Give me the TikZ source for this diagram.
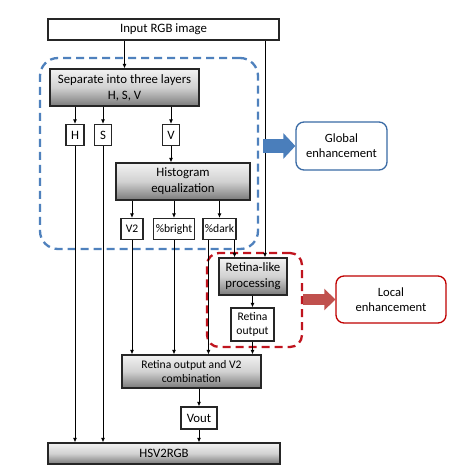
\documentclass[tikz,border=0pt]{standalone}
\usepackage{fontspec}
\setmainfont{Carlito}
\usetikzlibrary{arrows.meta,positioning,calc}

\definecolor{zoneblue}{RGB}{79,129,189}
\definecolor{zonered}{RGB}{192,20,30}
\definecolor{globblue}{RGB}{58,107,165}
\definecolor{locred}{RGB}{192,0,0}
\definecolor{garrow}{RGB}{74,126,187}
\definecolor{rarrow}{RGB}{192,80,77}

\begin{document}
\begin{tikzpicture}[
    x=1pt, y=-1pt,
    font=\fontsize{12.8}{16}\selectfont,
    box/.style={rectangle, draw=black!85, line width=1.1pt, inner sep=1pt, align=center},
    grad/.style={box, top color=white!95!black, bottom color=black!52, middle color=black!18},
    small/.style={font=\fontsize{11.6}{14}\selectfont},
    zone/.style={rectangle, line width=2.3pt, dash pattern=on 8pt off 5pt},
    enh/.style={rectangle, rounded corners=8pt, line width=1.3pt, align=center, fill=white, font=\fontsize{12.6}{15}\selectfont},
    arr/.style={-{Latex[length=4.5pt,width=4pt]}, line width=1pt},
    fat/.style={-{Triangle[length=12pt,width=25pt]}, line width=14pt},
  ]
    \useasboundingbox[fill=white] (0,0) rectangle (474,474);

    % dashed groups
    \node[zone, draw=zoneblue, rounded corners=18pt, minimum width=218, minimum height=191] (gz) at (149,153.5) {};
    \node[zone, draw=zonered, rounded corners=12pt, minimum width=95, minimum height=94] (rz) at (254.5,300) {};

    % processing chain
    \node[box, minimum width=231, minimum height=21] (in) at (163.5,29.5) {Input RGB image};
    \node[grad, minimum width=149, minimum height=37] (sep) at (124.5,87.5) {Separate into three layers\\H, S, V};
    \node[box, minimum width=18, minimum height=21] (h) at (75,135) {H};
    \node[box, minimum width=17, minimum height=21] (s) at (103,135) {S};
    \node[box, minimum width=17, minimum height=21] (v) at (171,135) {V};
    \node[grad, minimum width=134, minimum height=37] (hist) at (183,181.5) {Histogram\\equalization};
    \node[box, small, minimum width=22, minimum height=21] (v2) at (132,229) {V2};
    \node[box, small, minimum width=41, minimum height=21] (bright) at (174,229) {\%bright};
    \node[box, small, minimum width=33, minimum height=21] (dark) at (219.5,229) {\%dark};
    \node[grad, minimum width=68, minimum height=37] (rl) at (253,276.5) {Retina-like\\processing};
    \node[box, small, minimum width=43, minimum height=33] (ro) at (252.5,324.5) {Retina\\output};
    \node[grad, small, minimum width=139, minimum height=33] (comb) at (191.5,371.5) {Retina output and V2\\combination};
    \node[box, minimum width=36, minimum height=22] (vout) at (199,418) {Vout};
    \node[grad, minimum width=232, minimum height=21] (hsv) at (164,453.5) {HSV2RGB};

    % enhancement labels
    \node[enh, draw=globblue, minimum width=91, minimum height=48] (glob) at (341.5,146) {Global\\enhancement};
    \node[enh, draw=locred, minimum width=110, minimum height=47] (loc) at (391,299.5) {Local\\enhancement};

    \coordinate (rx) at (265,0);
    \coordinate (dl) at ($(dark.south west)+(6,0)$);
    \coordinate (dr) at ($(dark.south east)+(-2,0)$);

    \draw[arr] (in.south -| sep) -- (sep.north);
    \draw[arr] (in.south -| rx) -- (rl.north -| rx);
    \foreach \n in {h,s,v}
      \draw[arr] (sep.south -| \n) -- (\n.north);
    \draw[arr] (v.south) -- (hist.north -| v);
    \foreach \n in {v2,bright,dark}
      \draw[arr] (hist.south -| \n) -- (\n.north);
    \foreach \n in {h,s}
      \draw[arr] (\n.south) -- (hsv.north -| \n);
    \foreach \n in {v2,bright}
      \draw[arr] (\n.south) -- (comb.north -| \n);
    \draw[arr] (dl) -- (comb.north -| dl);
    \draw[arr] (dr) -- (rl.north -| dr);
    \draw[arr] (rl.south -| ro) -- (ro.north);
    \draw[arr] (ro.south) -- (comb.north -| ro);
    \draw[arr] (comb.south -| vout) -- (vout.north);
    \draw[arr] (vout.south) -- (hsv.north -| vout);

    % block arrows
    \draw[fat, garrow] ($(gz.east |- glob)+(4,0)$) -- (glob.west);
    \draw[fat, rarrow, line width=11pt, -{Triangle[length=11pt,width=21pt]}] (rz.east |- loc) -- (loc.west);
  \end{tikzpicture}
\end{document}
